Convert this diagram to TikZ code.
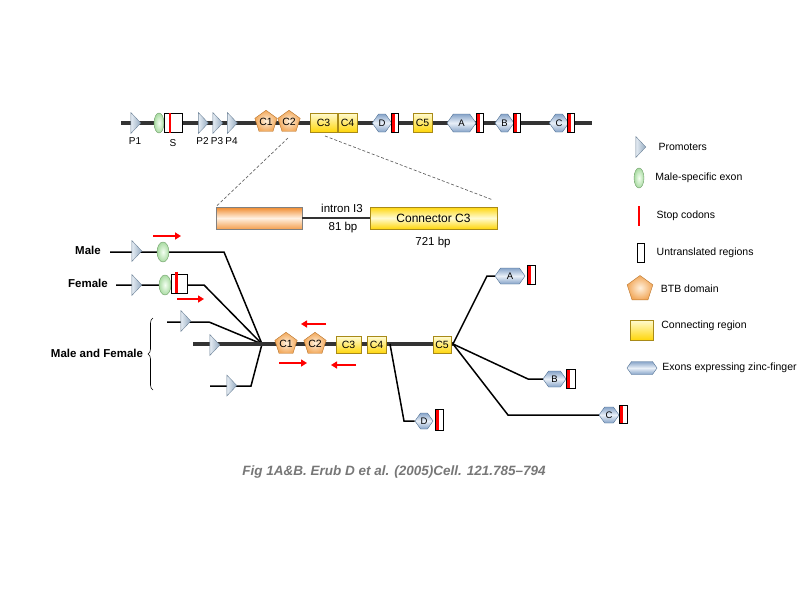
\documentclass[tikz,border=0pt]{standalone}
\usepackage{fontspec}
\setmainfont{Liberation Sans}
\usepackage{xcolor}
\usetikzlibrary{arrows.meta, positioning, calc, shapes.geometric, shapes.symbols, decorations.pathreplacing}

\definecolor{genegray}{HTML}{333333}
\definecolor{trilight}{HTML}{E6EDF4}
\definecolor{tridark}{HTML}{94AAC0}
\definecolor{triedge}{HTML}{6F8499}
\definecolor{exonlight}{HTML}{F4FFF2}
\definecolor{exondark}{HTML}{A9DBA2}
\definecolor{exonedge}{HTML}{6E9E68}
\definecolor{btblight}{HTML}{FFF0DC}
\definecolor{btbdark}{HTML}{F2A85A}
\definecolor{btbedge}{HTML}{B8742C}
\definecolor{connlight}{HTML}{FFFBD2}
\definecolor{conndark}{HTML}{FFD60A}
\definecolor{connedge}{HTML}{A88A18}
\definecolor{hexlight}{HTML}{E9F0F8}
\definecolor{hexdark}{HTML}{86A3C8}
\definecolor{hexedge}{HTML}{4F6F92}
\definecolor{orangetop}{HTML}{F0892A}
\definecolor{orangemid}{HTML}{FFF1E2}
\definecolor{orangebot}{HTML}{F4A050}
\definecolor{capgray}{HTML}{777777}

\tikzset{
  gene/.style={line width=4pt, genegray},
  link/.style={line width=1.5pt, black},
  zoomline/.style={densely dashed, line width=0.7pt, gray!80!black},
  redarrow/.style={red, line width=2.5pt, -{Triangle[length=6pt, width=7pt]}},
  stopbar/.style={red, line width=2.5pt},
  promoter/.style={isosceles triangle, isosceles triangle stretches, minimum width=21pt, minimum height=10pt,
    inner sep=0pt, draw=triedge, left color=trilight, right color=tridark},
  exon/.style={ellipse, minimum width=10pt, minimum height=20pt, inner sep=0pt, draw=exonedge,
    inner color=exonlight, outer color=exondark},
  btb/.style={regular polygon, regular polygon sides=5, minimum size=23pt, inner sep=0pt, draw=btbedge,
    inner color=btblight, outer color=btbdark},
  conn/.style={rectangle, minimum height=19pt, inner sep=0pt, draw=connedge, top color=connlight, bottom color=conndark},
  zinc/.style={signal, signal to=west and east, signal pointer angle=110, minimum height=18pt, inner sep=0pt,
    draw=hexedge, top color=hexdark, bottom color=hexdark, middle color=hexlight, font=\fontsize{9.5}{10}\selectfont},
  utrbox/.style={rectangle, minimum width=8pt, minimum height=19pt, inner sep=0pt, draw=black, line width=1pt, fill=white},
  utr/.style={utrbox, path picture={\fill[red] (path picture bounding box.south west) rectangle
    ([xshift=3.5pt]path picture bounding box.north west);}},
  tag/.style={inner sep=0pt, font=\fontsize{10}{10}\selectfont},
  bigtxt/.style={inner sep=0pt, font=\fontsize{11.5}{12}\selectfont},
  sextxt/.style={inner sep=0pt, font=\fontsize{11.5}{12}\selectfont\bfseries},
  keytxt/.style={inner sep=0pt, font=\fontsize{10.5}{12}\selectfont}
}

\begin{document}
\begin{tikzpicture}[x=1pt, y=-1pt, >=Stealth, font=\fontsize{10.5}{12}\selectfont]
  \useasboundingbox (0,0) rectangle (800,600);

  % gene map
  \coordinate (t0) at (121,123);
  \coordinate (t1) at (592,123);
  \draw[gene] (t0) -- (t1);
  \node[promoter] (tP1) at (135,123) {};
  \node[exon] (tEx) at (159,123) {};
  \node[utrbox, minimum width=18pt] (tS) at (173,123) {};
  \draw[stopbar, line width=2pt] ([xshift=6pt]tS.north west) -- ([xshift=6pt]tS.south west);
  \node[promoter] (tP2) at (202.5,123) {};
  \node[promoter] (tP3) at (217,123) {};
  \node[promoter] (tP4) at (231.5,123) {};
  \node[btb] (tC1) at (266,122) {C1};
  \node[btb] (tC2) at (289,122) {C2};
  \node[conn, minimum width=27pt] (tC3) at (323.5,122.5) {C3};
  \node[conn, minimum width=19pt] (tC4) at (347.5,122.5) {C4};
  \node[zinc, minimum width=18pt] (tD) at (382,123) {D};
  \node[utr, minimum width=7pt] (tDu) at (395,123) {};
  \node[conn, minimum width=19pt] (tC5) at (422.5,122.5) {C5};
  \node[zinc, minimum width=29pt] (tA) at (461.5,123) {A};
  \node[utr, minimum width=7pt] (tAu) at (480,123) {};
  \node[zinc, minimum width=17pt] (tB) at (504.5,123) {B};
  \node[utr, minimum width=7pt] (tBu) at (517,123) {};
  \node[zinc, minimum width=18pt] (tC) at (559,123) {C};
  \node[utr, minimum width=7pt] (tCu) at (571,123) {};
  \node[tag, below=8pt of tP1] {P1};
  \node[tag, below=6pt of tS] {S};
  \node[tag, below=8pt of tP2] {P2};
  \node[tag, below=8pt of tP3] {P3};
  \node[tag, below=8pt of tP4] {P4};

  % zoom on C3
  \node[rectangle, minimum width=86pt, minimum height=22pt, draw=gray, top color=orangetop, bottom color=orangebot,
    middle color=orangemid] (exC2) at (259,218) {};
  \node[conn, minimum width=127pt, minimum height=22pt, top color=conndark, bottom color=conndark, middle color=connlight,
    font=\fontsize{12}{12}\selectfont] (conC3) at (433.5,218) {Connector C3};
  \draw[line width=2pt, genegray] (exC2) -- (conC3);
  \node[bigtxt] (intron) at (342,208) {intron I3};
  \node[bigtxt] (bp81) at (343,228) {81 bp};
  \node[bigtxt] (bp721) at (433,243) {721 bp};
  \coordinate (zL) at (288,138);
  \coordinate (zR) at (325,136);
  \coordinate (zRe) at (493,200);
  \draw[zoomline] (zL) -- (exC2.north west);
  \draw[zoomline] (zR) -- (zRe);

  % transcripts
  \coordinate (hub) at (262,344);
  \coordinate (mS) at (110,252);
  \coordinate (mB) at (224,252);
  \coordinate (fS) at (116,285);
  \coordinate (fB) at (204,285);
  \coordinate (uS) at (167,322);
  \coordinate (uB) at (209,322);
  \coordinate (lS) at (210,386);
  \coordinate (lB) at (251,386);
  \coordinate (bS) at (193,344);
  \coordinate (br) at (453,344);
  \draw[link] (mS) -- (mB) -- (hub);
  \draw[link] (fS) -- (fB) -- (hub);
  \draw[link] (uS) -- (uB) -- (hub);
  \draw[link] (lS) -- (lB) -- (hub);
  \draw[gene] (bS) -- (br);

  \node[sextxt] (male) at (88,250) {Male};
  \node[sextxt] (female) at (88,283) {Female};
  \node[sextxt] (both) at (97,353) {Male and Female};
  \coordinate (braceB) at (153,390);
  \coordinate (braceT) at (153,318);
  \draw[line width=0.6pt, decorate, decoration={brace, amplitude=5pt}] (braceB) -- (braceT);

  \node[promoter] (mP) at (136,251) {};
  \node[exon, minimum width=12pt] (mEx) at (163,252) {};
  \node[promoter] (fP) at (136,285) {};
  \node[exon, minimum width=12pt] (fEx) at (165,285) {};
  \node[utrbox, minimum width=16pt] (fU) at (179,283.5) {};
  \draw[stopbar, line width=3pt] ([xshift=6pt, yshift=2pt]fU.north west) -- ([xshift=6pt, yshift=1pt]fU.south west);
  \node[promoter] (uP) at (185,321) {};
  \node[promoter] (bP) at (214,345) {};
  \node[promoter] (lP) at (231,385.5) {};

  \node[btb, minimum size=21pt] (bC1) at (286,344) {C1};
  \node[btb, minimum size=21pt] (bC2) at (315,344) {C2};
  \node[conn, minimum width=25pt, minimum height=17pt] (bC3) at (348.5,345) {C3};
  \node[conn, minimum width=19pt, minimum height=17pt] (bC4) at (376.5,345) {C4};
  \node[conn, minimum width=18pt, minimum height=17pt] (bC5) at (442,345) {C5};

  \draw[redarrow] (153,236) -- (181,236);
  \draw[redarrow] (177,299) -- (204,299);
  \draw[redarrow] (326,324) -- (301,324);
  \draw[redarrow] (279,363) -- (307,363);
  \draw[redarrow] (356,365) -- (331,365);

  % zinc-finger exons
  \node[zinc, minimum width=30pt, minimum height=16pt] (bA) at (510,276) {A};
  \node[utr, minimum width=8pt] (bAu) at (531,274.5) {};
  \node[zinc, minimum width=23pt, minimum height=16pt] (bB) at (554.5,379) {B};
  \node[utr, minimum width=9pt] (bBu) at (570.5,378.5) {};
  \node[zinc, minimum width=20pt, minimum height=16pt] (bC) at (609,415) {C};
  \node[utr, minimum width=8pt, minimum height=18pt] (bCu) at (623,414) {};
  \node[zinc, minimum width=16pt, minimum height=16pt] (bD) at (424,421) {D};
  \node[utr, minimum width=8pt, minimum height=21pt] (bDu) at (439,419.5) {};
  \coordinate (aB) at (487,276);
  \coordinate (bBend) at (528,379);
  \coordinate (cB) at (508,415);
  \coordinate (dS) at (390,344);
  \coordinate (dB) at (404,421);
  \draw[link] (br) -- (aB) -- (bA);
  \draw[link] (br) -- (bBend) -- (bB);
  \draw[link] (br) -- (cB) -- (bC);
  \draw[link] (dS) -- (dB) -- (bD);

  % key
  \node[promoter] (kP) at (640,147) {};
  \node[keytxt, right=12pt of kP] {Promoters};
  \node[exon] (kEx) at (639,178) {};
  \node[keytxt, right=11pt of kEx] {Male-specific exon};
  \node[rectangle, fill=red, minimum width=2.5pt, minimum height=20pt, inner sep=0pt] (kStop) at (639,216) {};
  \node[keytxt, right=16pt of kStop] {Stop codons};
  \node[utrbox, minimum width=7pt] (kU) at (640.5,252.5) {};
  \node[keytxt, right=12pt of kU] {Untranslated regions};
  \node[btb, minimum size=27pt] (kB) at (640,289) {};
  \node[keytxt, right=9pt of kB] {BTB domain};
  \node[conn, minimum width=23pt, minimum height=20pt] (kC) at (641.5,330) {};
  \node[keytxt, right=8pt of kC, yshift=4pt] {Connecting region};
  \node[zinc, minimum width=30pt, minimum height=13pt] (kZ) at (642,368) {};
  \node[keytxt, right=5pt of kZ] {Exons expressing zinc-finger};

  \node[font=\fontsize{13.5}{14}\selectfont\bfseries\itshape, text=capgray] (cap) at (394,472)
    {Fig 1A\&B. Erub D et al. (2005)Cell. 121.785–794};
\end{tikzpicture}
\end{document}
